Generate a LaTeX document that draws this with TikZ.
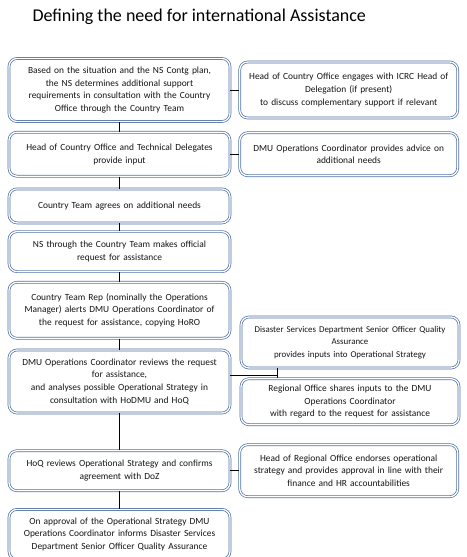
\documentclass[tikz,border=0pt]{standalone}
\usepackage{xcolor}
\usepackage{fontspec}
\setmainfont{Carlito}
\usepackage{tikz}
\usetikzlibrary{positioning, calc}
\definecolor{frame}{RGB}{80, 112, 165}
\definecolor{darktext}{RGB}{20, 20, 20}

\begin{document}
\begin{tikzpicture}[
    x=1pt, y=1pt,
    node distance=10pt,
    box/.style={rectangle, draw=frame, line width=0.7pt, double=white, double distance=1.3pt,
                rounded corners=8pt, align=center, inner sep=2pt, text=darktext,
                font=\fontsize{9.4}{12.6}\selectfont},
    lbox/.style={box, minimum width=221pt, text width=214pt},
    rbox/.style={box, minimum width=218pt, text width=212pt},
    link/.style={line width=0.9pt, black}
]
\useasboundingbox (0,0) rectangle (466,-557);

% Title
\node[anchor=base west, font=\fontsize{18}{21}\selectfont] (title) at (29,-21)
    {Defining the need for international Assistance};

% Flow
\node[lbox, minimum height=63pt] (situation) at (119.5,-90)
    {Based on the situation and the NS Contg plan,\\ the NS determines additional support\\
     requirements in consultation with the Country\\ Office through the Country Team};
\node[lbox, minimum height=44pt, below=10pt of situation] (input)
    {Head of Country Office and Technical Delegates\\ provide input};
\node[lbox, minimum height=34pt, below=12pt of input] (agree)
    {Country Team agrees on additional needs};
\node[lbox, minimum height=40pt, below=8pt of agree] (request)
    {NS through the Country Team makes official\\ request for assistance};
\node[lbox, minimum height=56pt, below=10pt of request] (alert)
    {Country Team Rep (nominally the Operations\\ Manager) alerts DMU Operations Coordinator of\\
     the request for assistance, copying HoRO};
\node[lbox, minimum height=63pt, below=11pt of alert] (reviews)
    {DMU Operations Coordinator reviews the request\\ for assistance,\\
     and analyses possible Operational Strategy in\\ consultation with HoDMU and HoQ};
\node[lbox, minimum height=40pt, below=37pt of reviews] (confirm)
    {HoQ reviews Operational Strategy and confirms\\ agreement with DoZ};
\node[lbox, minimum height=50pt, below=18pt of confirm] (inform)
    {On approval of the Operational Strategy DMU\\ Operations Coordinator informs Disaster Services\\
     Department Senior Officer Quality Assurance};

% Side boxes
\node[rbox, minimum height=56pt, right=9pt of situation] (icrc)
    {Head of Country Office engages with ICRC Head of\\ Delegation (if present)\\
     to discuss complementary support if relevant};
\node[rbox, minimum height=43pt, right=9pt of input] (advice)
    {DMU Operations Coordinator provides advice on\\ additional needs};
\node[rbox, minimum height=51pt, font=\fontsize{8.9}{12.5}\selectfont] (quality) at (350,-342.5)
    {Disaster Services Department Senior Officer Quality\\ Assurance\\
     provides inputs into Operational Strategy};
\node[rbox, minimum height=46pt, below=10pt of quality] (regional)
    {Regional Office shares inputs to the DMU\\ Operations Coordinator\\
     with regard to the request for assistance};
\node[rbox, minimum height=52pt, right=9pt of confirm] (endorse)
    {Head of Regional Office endorses operational\\ strategy and provides approval in line with their\\
     finance and HR accountabilities};

% Connectors
\draw[link] (situation) -- (input);
\draw[link] (input) -- (agree);
\draw[link] (agree) -- (request);
\draw[link] (request) -- (alert);
\draw[link] (alert) -- (reviews);
\draw[link] (reviews) -- (confirm);
\draw[link] (confirm) -- (inform);
\draw[link] (situation) -- (icrc);
\draw[link] (input) -- (advice);
\draw[link] (confirm) -- (endorse);

% Junction to the regional pair
\coordinate (split) at (277,-375);
\draw[link] (reviews.east |- split) -- (split);
\draw[link] (quality.south -| split) -- (regional.north -| split);

\end{tikzpicture}
\end{document}
